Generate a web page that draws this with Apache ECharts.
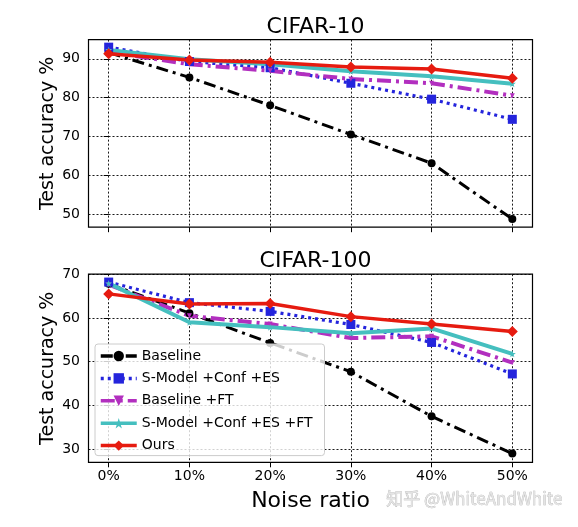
<!DOCTYPE html>
<html>
<head>
<meta charset="utf-8">
<script src="https://cdn.jsdelivr.net/npm/echarts@6/dist/echarts.min.js"></script>
<style>html,body{margin:0;padding:0;background:#fff;}#c{width:578px;height:527px;}</style>
</head>
<body>
<div id="c"></div>
<script>
var categories = ['0%', '10%', '20%', '30%', '40%', '50%'];
var seriesNames = ['Baseline', 'S-Model +Conf +ES', 'Baseline +FT', 'S-Model +Conf +ES +FT', 'Ours'];

var c10_baseline   = [91.6, 85.2, 78.0, 70.5, 63.1, 48.7];
var c10_smodel     = [93.0, 89.3, 87.7, 83.7, 79.6, 74.4];
var c10_baselineFT = [91.8, 88.6, 86.9, 84.8, 83.7, 80.5];
var c10_smodelFT   = [92.3, 89.9, 88.6, 86.8, 85.5, 83.6];
var c10_ours       = [91.3, 89.7, 89.1, 87.9, 87.4, 85.0];

var c100_baseline   = [67.8, 61.1, 54.3, 47.7, 37.5, 29.0];
var c100_smodel     = [68.2, 63.5, 61.5, 58.5, 54.4, 47.2];
var c100_baselineFT = [67.6, 60.5, 58.6, 55.4, 55.8, 49.8];
var c100_smodelFT   = [67.9, 59.0, 57.9, 56.5, 57.6, 51.8];
var c100_ours       = [65.5, 63.2, 63.3, 60.3, 58.6, 56.9];

var c10_ticks = [50, 60, 70, 80, 90];
var c100_ticks = [30, 40, 50, 60, 70];
var xTicks = [0, 1, 2, 3, 4, 5];

var FONT = 'DejaVu Sans';
var star = 'path://M50,0 L61,35 L98,35 L68,57 L79,91 L50,70 L21,91 L32,57 L2,35 L39,35 Z';
var styles = [
  {color: '#000000', width: 3,   type: [12, 5, 3, 5], symbol: 'circle',   size: 8},
  {color: '#2424dc', width: 3.2, type: [3, 4],        symbol: 'rect',     size: 9},
  {color: '#b22fbf', width: 4,   type: [14, 5, 3, 5], symbol: 'triangle', size: 5, rotate: 180},
  {color: '#45bfbf', width: 4,   type: 'solid',       symbol: star,       size: 7},
  {color: '#e61b10', width: 3.5, type: 'solid',       symbol: 'diamond',  size: 11}
];

function pairs(arr) { return arr.map(function (v, i) { return [i, v]; }); }

function makeSeries(sets, axisIndex) {
  return sets.map(function (arr, k) {
    var s = styles[k];
    return {
      name: seriesNames[k], type: 'line', xAxisIndex: axisIndex, yAxisIndex: axisIndex,
      data: pairs(arr), symbol: s.symbol, symbolSize: s.size, symbolRotate: s.rotate || 0,
      showAllSymbol: true, animation: false,
      itemStyle: {color: s.color, borderWidth: 0},
      lineStyle: {color: s.color, width: s.width, type: s.type, cap: 'butt'},
      emphasis: {disabled: true}
    };
  });
}

function xAxisCfg(gridIndex, showLabels) {
  return {
    type: 'value', gridIndex: gridIndex, min: -0.25, max: 5.25,
    axisLine: {show: false},
    axisTick: {show: true, inside: false, length: 5, customValues: xTicks, lineStyle: {color: '#000', width: 1}},
    axisLabel: {show: showLabels, customValues: xTicks, margin: 7, color: '#000', fontSize: 14, fontFamily: FONT,
      formatter: function (v) { return categories[Math.round(v)] || ''; }},
    splitLine: {show: true, lineStyle: {color: '#000', width: 0.9, type: [2, 2]}},
    name: showLabels ? 'Noise ratio' : '', nameLocation: 'middle', nameGap: 28,
    nameTextStyle: {color: '#000', fontSize: 22, fontFamily: FONT}
  };
}

function yAxisCfg(gridIndex, min, max, ticks) {
  return {
    type: 'value', gridIndex: gridIndex, min: min, max: max,
    axisLine: {show: false},
    axisTick: {show: true, inside: false, length: 5, customValues: ticks, lineStyle: {color: '#000', width: 1}},
    axisLabel: {customValues: ticks, margin: 8.5, color: '#000', fontSize: 14, fontFamily: FONT},
    splitLine: {show: true, lineStyle: {color: '#000', width: 0.9, type: [2, 2]}},
    name: 'Test accuracy %', nameLocation: 'middle', nameGap: 31, nameRotate: 90, nameMoveOverlap: false,
    nameTextStyle: {color: '#000', fontSize: 19, fontFamily: FONT}
  };
}

var chart = echarts.init(document.getElementById('c'), null, {renderer: 'canvas'});
chart.setOption({
  backgroundColor: '#fff',
  animation: false,
  title: [
    {text: 'CIFAR-10', left: 310.5, top: 11, textAlign: 'center',
     textStyle: {fontSize: 22, fontWeight: 'normal', color: '#000', fontFamily: FONT}},
    {text: 'CIFAR-100', left: 310.5, top: 245, textAlign: 'center',
     textStyle: {fontSize: 22, fontWeight: 'normal', color: '#000', fontFamily: FONT}}
  ],
  grid: [
    {left: 88.5, top: 39.6, width: 444, height: 187.6, show: true, borderColor: '#000', borderWidth: 1.2, backgroundColor: 'transparent', containLabel: false},
    {left: 88.5, top: 274.2, width: 444, height: 188.1, show: true, borderColor: '#000', borderWidth: 1.2, backgroundColor: 'transparent', containLabel: false}
  ],
  xAxis: [xAxisCfg(0, false), xAxisCfg(1, true)],
  yAxis: [yAxisCfg(0, 46.6, 94.95, c10_ticks), yAxisCfg(1, 27.0, 70.0, c100_ticks)],
  legend: {
    data: seriesNames, orient: 'vertical', left: 95, top: 344,
    itemWidth: 36, itemHeight: 13, itemGap: 8.4,
    padding: [5, 12, 3, 4],
    lineStyle: {width: 3.5},
    backgroundColor: 'rgba(255,255,255,0.8)', borderColor: '#cccccc', borderWidth: 1, borderRadius: 3,
    textStyle: {color: '#000', fontSize: 14, fontFamily: FONT},
    selectedMode: false
  },
  graphic: [
    {type: 'text', left: 386, top: 490, z: 100,
     style: {text: '知乎 @WhiteAndWhite', fontSize: 17, fontFamily: 'Noto Sans CJK SC', fill: '#e4e4e4', stroke: '#b0b0b0', lineWidth: 0.6}}
  ],
  series: makeSeries([c10_baseline, c10_smodel, c10_baselineFT, c10_smodelFT, c10_ours], 0)
    .concat(makeSeries([c100_baseline, c100_smodel, c100_baselineFT, c100_smodelFT, c100_ours], 1))
});
</script>
</body>
</html>
